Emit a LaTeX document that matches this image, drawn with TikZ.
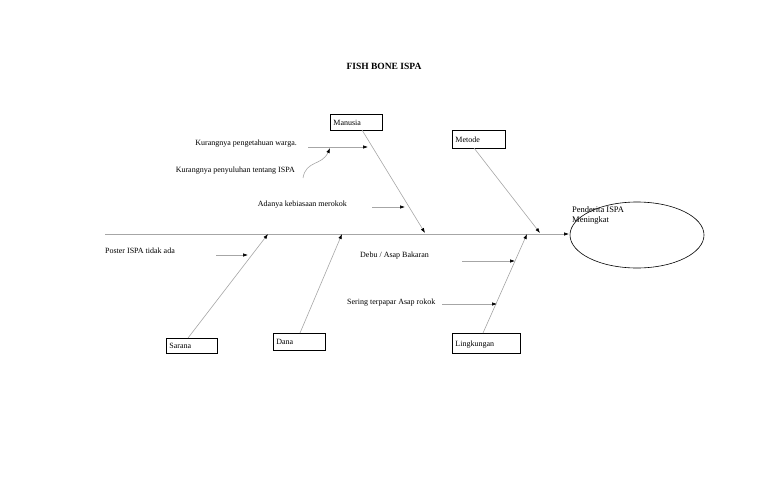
\documentclass[tikz,border=0pt]{standalone}
\usepackage{fontspec}
\setmainfont{Liberation Serif}
\usetikzlibrary{arrows.meta,shapes.geometric}
\begin{document}
\begin{tikzpicture}[x=1pt,y=-1pt,
  bone/.style={draw=black!35,line width=0.6pt,-{Latex[length=5pt,width=3.5pt,black]}},
  box/.style={draw,line width=0.8pt,anchor=north west,inner sep=0pt,font=\fontsize{8}{9}\selectfont,align=left,text depth=0pt},
  lbl/.style={font=\fontsize{8}{9}\selectfont,anchor=east,inner sep=1pt}]
\useasboundingbox (0,0) rectangle (768,501);
\node[font=\bfseries\fontsize{9.5}{11}\selectfont] (title) at (384,66) {FISH BONE ISPA};
\node[draw,ellipse,minimum width=134,minimum height=66,line width=0.6pt] (eff) at (637,235) {};
\node[anchor=north west,inner sep=0pt,align=left,font=\fontsize{8.5}{10}\selectfont] (efft) at (572,206) {Penderita ISPA\\Meningkat};
\node[box,minimum width=52,minimum height=16,text width=46,inner xsep=3pt] (man) at (330,114) {Manusia};
\node[box,minimum width=53,minimum height=18,text width=47,inner xsep=3pt] (met) at (452,130) {Metode};
\node[box,minimum width=51,minimum height=15,text width=45,inner xsep=3pt] (sar) at (166,338) {Sarana};
\node[box,minimum width=52,minimum height=17,text width=46,inner xsep=3pt] (dan) at (273,333) {Dana};
\node[box,minimum width=68,minimum height=20,text width=62,inner xsep=3pt] (lin) at (452,333) {Lingkungan};
\coordinate (s0) at (105,234);
\coordinate (s1) at (569,234);
\coordinate (m1) at (425,233);
\coordinate (t1) at (540,233);
\coordinate (a1) at (268,234);
\coordinate (d1) at (342,234);
\coordinate (l1) at (527,234);
\draw[bone] (s0) -- (s1);
\draw[bone] (362,130) -- (m1);
\draw[bone] (474,148) -- (t1);
\draw[bone] (188,338) -- (a1);
\draw[bone] (300,333) -- (d1);
\draw[bone] (483,333) -- (l1);
\node[lbl] (k1) at (298,144) {Kurangnya pengetahuan warga.};
\node[lbl] (k2) at (296,171) {Kurangnya penyuluhan tentang ISPA};
\node[lbl] (k3) at (348,205) {Adanya kebiasaan merokok};
\node[lbl] (k4) at (176,251) {Poster ISPA tidak ada};
\node[lbl,anchor=west] (k5) at (359,256) {Debu / Asap Bakaran};
\node[lbl,anchor=west] (k6) at (346,303) {Sering terpapar Asap rokok};
\coordinate (e1a) at (308,147); \coordinate (e1b) at (368,147);
\coordinate (e2a) at (303,178); \coordinate (e2b) at (330,148);
\coordinate (e3a) at (372,207); \coordinate (e3b) at (405,207);
\coordinate (e4a) at (216,255); \coordinate (e4b) at (248,255);
\coordinate (e5a) at (462,261); \coordinate (e5b) at (515,261);
\coordinate (e6a) at (442,304); \coordinate (e6b) at (497,304);
\draw[bone] (e1a) -- (e1b);
\draw[bone] (e2a) .. controls (306,160) and (322,166) .. (e2b);
\draw[bone] (e3a) -- (e3b);
\draw[bone] (e4a) -- (e4b);
\draw[bone] (e5a) -- (e5b);
\draw[bone] (e6a) -- (e6b);
\end{tikzpicture}
\end{document}
